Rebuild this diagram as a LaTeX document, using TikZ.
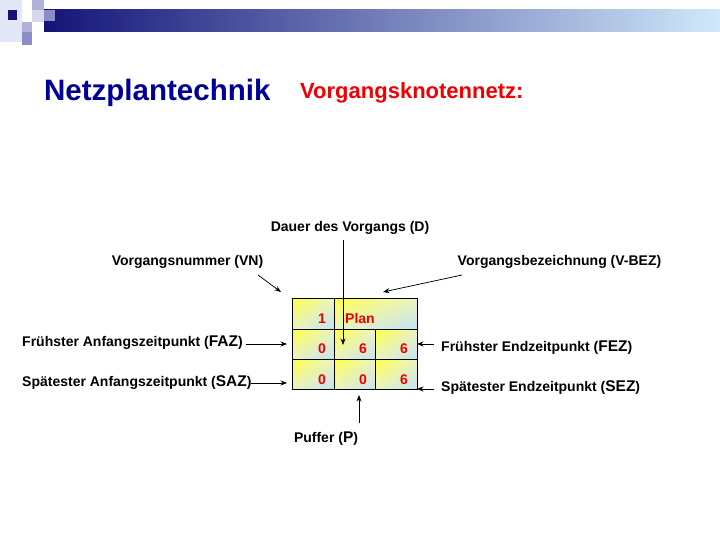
\documentclass[tikz,border=0pt]{standalone}
\usepackage{fontspec}
\setmainfont{Liberation Sans}
\usetikzlibrary{arrows.meta,shadings}
\definecolor{titleblue}{RGB}{0,0,153}
\definecolor{titlered}{RGB}{240,0,0}
\definecolor{barnavy}{RGB}{20,20,120}
\definecolor{barlight}{RGB}{208,232,250}
\definecolor{decolight}{RGB}{226,230,246}
\definecolor{decomid}{RGB}{176,178,220}
\definecolor{decodark}{RGB}{140,140,200}
\definecolor{decopale}{RGB}{214,216,238}
\definecolor{cellY}{RGB}{255,255,70}
\definecolor{cellM}{RGB}{236,244,196}
\definecolor{cellB}{RGB}{196,226,245}
\begin{document}
\begin{tikzpicture}[x=1pt,y=-1pt,
  lbl/.style={font=\fontsize{14}{16}\selectfont\bfseries, inner sep=0pt},
  num/.style={font=\fontsize{14}{16}\selectfont\bfseries, text=titlered, inner sep=0pt},
  arr/.style={-{Stealth[length=6.5pt,width=5pt]}, line width=0.75pt, black},
  cellbox/.style={draw=black, line width=0.8pt, inner sep=0pt, anchor=north west,
    upper left=cellY, upper right=cellM, lower left=cellM, lower right=cellB}]
\useasboundingbox (0,0) rectangle (720,540);
\fill[white] (0,0) rectangle (720,540);
% top-left decoration and bar
\fill[decolight] (0,0) rectangle (22,42);
\shade[left color=barnavy, right color=barlight] (44,10) rectangle (720,32);
\fill[barnavy] (8,10) rectangle (17,20);
\fill[decomid] (32,0) rectangle (44,10);
\fill[decopale] (32,10) rectangle (44,22);
\fill[decodark] (44,10) rectangle (55,21);
\fill[decomid] (22,22) rectangle (32,32);
\fill[decodark] (22,32) rectangle (32,45);
% titles
\node[anchor=base west, inner sep=0pt, text=titleblue, font=\fontsize{29.5}{34}\selectfont\bfseries] (title) at (44,101) {Netzplantechnik};
\node[anchor=base west, inner sep=0pt, text=titlered, font=\fontsize{22}{26}\selectfont\bfseries] (subtitle) at (300,99) {Vorgangsknotennetz:};
% grid cells
\node[cellbox, minimum width=42pt, minimum height=31pt] (c1) at (291.5,298) {};
\node[cellbox, minimum width=83pt, minimum height=31pt] (cplan) at (333.5,298) {};
\node[cellbox, minimum width=42pt, minimum height=30pt] (faz) at (291.5,329) {};
\node[cellbox, minimum width=41.5pt, minimum height=30pt] (dur) at (333.5,329) {};
\node[cellbox, minimum width=41.5pt, minimum height=30pt] (fez) at (375,329) {};
\node[cellbox, minimum width=42pt, minimum height=30pt] (saz) at (291.5,359) {};
\node[cellbox, minimum width=41.5pt, minimum height=30pt] (puf) at (333.5,359) {};
\node[cellbox, minimum width=41.5pt, minimum height=30pt] (sez) at (375,359) {};
% numbers
\node[num, anchor=base east] (n1) at (326,323) {1};
\node[num, anchor=base west] (nplan) at (345,323) {Plan};
\node[num, anchor=base east] (n2) at (326,353) {0};
\node[num, anchor=base east] (n3) at (367,353) {6};
\node[num, anchor=base east] (n4) at (408,353) {6};
\node[num, anchor=base east] (n5) at (326,384) {0};
\node[num, anchor=base east] (n6) at (367,384) {0};
\node[num, anchor=base east] (n7) at (408,384) {6};
% labels
\node[lbl, anchor=base] (ld) at (350,231) {Dauer des Vorgangs (D)};
\node[lbl, anchor=base] (lvn) at (187.5,265) {Vorgangsnummer (VN)};
\node[lbl, anchor=base] (lbez) at (559.5,265) {Vorgangsbezeichnung (V-BEZ)};
\node[lbl, anchor=base west] (lfaz) at (22,346) {Frühster Anfangszeitpunkt ({\fontsize{15.5}{18}\selectfont FAZ})};
\node[lbl, anchor=base west] (lsaz) at (22,386) {Spätester Anfangszeitpunkt ({\fontsize{15.5}{18}\selectfont SAZ})};
\node[lbl, anchor=base west] (lfez) at (441,351) {Frühster Endzeitpunkt ({\fontsize{15.5}{18}\selectfont FEZ})};
\node[lbl, anchor=base west] (lsez) at (441,391) {Spätester Endzeitpunkt ({\fontsize{15.5}{18}\selectfont SEZ})};
\node[lbl, anchor=base] (lp) at (326,442) {Puffer ({\fontsize{15.5}{18}\selectfont P})};
% arrow coordinates
\coordinate (ad0) at (343,240);
\coordinate (ad1) at (343,345);
\coordinate (avn0) at (258,275);
\coordinate (avn1) at (281,292);
\coordinate (abez0) at (462,275);
\coordinate (abez1) at (383,292);
\coordinate (afaz0) at (246,344);
\coordinate (afaz1) at (287,344);
\coordinate (asaz0) at (251,383);
\coordinate (asaz1) at (287,383);
\coordinate (afez0) at (434,344);
\coordinate (afez1) at (417,344);
\coordinate (asez0) at (434,389);
\coordinate (asez1) at (417,389);
\coordinate (ap0) at (359,423);
\coordinate (ap1) at (359,395);
\draw[arr] (ad0) -- (ad1);
\draw[arr] (avn0) -- (avn1);
\draw[arr] (abez0) -- (abez1);
\draw[arr] (afaz0) -- (afaz1);
\draw[arr] (asaz0) -- (asaz1);
\draw[arr] (afez0) -- (afez1);
\draw[arr] (asez0) -- (asez1);
\draw[arr] (ap0) -- (ap1);
\end{tikzpicture}
\end{document}
